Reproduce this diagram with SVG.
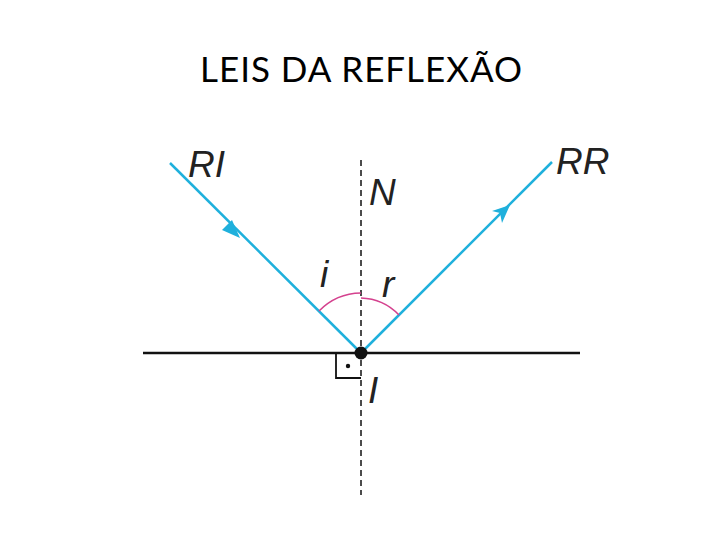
<svg xmlns="http://www.w3.org/2000/svg" width="720" height="540" viewBox="0 0 720 540">
<style>
.lbl{font-family:"Liberation Sans",Arial,sans-serif;font-style:italic;font-size:37px;fill:#222}
.ray{stroke:#1fb0dc;stroke-width:2.5;fill:none}
.arc{stroke:#d4418e;stroke-width:1.5;fill:none}
.head{fill:#1fb0dc}
</style>
<rect width="720" height="540" fill="#fff"/>
<text x="361" y="82" text-anchor="middle" font-family="Lato,'Open Sans',sans-serif" font-size="35" textLength="322" fill="#000">LEIS DA REFLEXÃO</text>
<g id="connectors">
<line x1="143" y1="353" x2="580" y2="353" stroke="#111" stroke-width="2.5"/>
<line x1="361" y1="160" x2="361" y2="495" stroke="#111" stroke-width="1.5" stroke-dasharray="6,4"/>
<line class="ray" x1="170" y1="163" x2="361" y2="353"/>
<line class="ray" x1="361" y1="353" x2="552" y2="162"/>
<path class="head" d="M232,220 L240,238 L222,230 Z"/>
<path class="head" d="M500,213 L492,211 L510,205 L502,223 Z"/>
<path class="arc" d="M319,311 A60,60 0 0 1 361,293"/>
<path class="arc" d="M361,298 A55,55 0 0 1 399,315"/>
<path d="M336,353 V378 H361" stroke="#111" stroke-width="1.8" fill="none"/>
<circle cx="348" cy="366" r="2.2" fill="#111"/>
</g>
<g id="point-I"><circle cx="361" cy="353" r="6.5" fill="#111"/></g>
<g id="labels">
<text class="lbl" x="188" y="177">RI</text>
<text class="lbl" x="556" y="174">RR</text>
<text class="lbl" x="369" y="205">N</text>
<text class="lbl" x="320" y="287">i</text>
<text class="lbl" x="382" y="297">r</text>
<text class="lbl" x="368" y="403">I</text>
</g>
</svg>
